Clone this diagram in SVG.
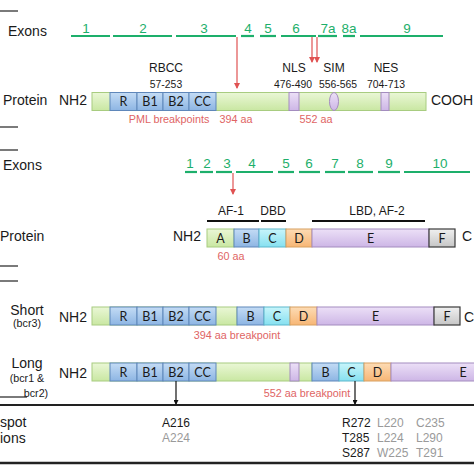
<svg xmlns="http://www.w3.org/2000/svg" width="474" height="474" viewBox="0 0 474 474">
<defs>
<linearGradient id="gGreen" x1="0" y1="0" x2="0" y2="1"><stop offset="0" stop-color="#eaf7d6"/><stop offset="1" stop-color="#c9e7a2"/></linearGradient>
<linearGradient id="gBlue" x1="0" y1="0" x2="0" y2="1"><stop offset="0" stop-color="#c4dcf5"/><stop offset="1" stop-color="#8db5e3"/></linearGradient>
<linearGradient id="gPurple" x1="0" y1="0" x2="0" y2="1"><stop offset="0" stop-color="#ece0f7"/><stop offset="1" stop-color="#cdb6e6"/></linearGradient>
<linearGradient id="gCyan" x1="0" y1="0" x2="0" y2="1"><stop offset="0" stop-color="#c8f5fb"/><stop offset="1" stop-color="#86e0f0"/></linearGradient>
<linearGradient id="gOrange" x1="0" y1="0" x2="0" y2="1"><stop offset="0" stop-color="#fddcb5"/><stop offset="1" stop-color="#f7b675"/></linearGradient>
<linearGradient id="gGray" x1="0" y1="0" x2="0" y2="1"><stop offset="0" stop-color="#f0f0f0"/><stop offset="1" stop-color="#c6c6c6"/></linearGradient>
<marker id="arrRed" markerWidth="6" markerHeight="6" refX="5" refY="3" orient="auto" markerUnits="userSpaceOnUse"><path d="M0,0 L6,3 L0,6 z" fill="#e05252"/></marker>
<marker id="arrBlk" markerWidth="5" markerHeight="5" refX="4" refY="2.5" orient="auto" markerUnits="userSpaceOnUse"><path d="M0,0 L5,2.5 L0,5 z" fill="#111"/></marker>
</defs>
<style>
text{font-family:"Liberation Sans",Arial,sans-serif;fill:#1a1a1a}
.lbl{font-size:14px}
.ex{font-size:13.5px;fill:#1daf6b;text-anchor:middle}
.exl{stroke:#1daf6b;stroke-width:2.2}
.dom{font-size:12px;text-anchor:middle}
.rng{font-size:10.4px;text-anchor:middle}
.red{font-size:10.8px;fill:#e06464;text-anchor:middle}
.box{font-family:Lato,"Open Sans",sans-serif;font-size:12.5px;text-anchor:middle;fill:#1a1a1a}
.small{font-size:10.7px;text-anchor:middle}
.mut{font-size:12px}
.gry{fill:#9a9a9a}
.grn{fill:url(#gGreen);stroke:#a8cc80;stroke-width:1}
.blu{fill:url(#gBlue);stroke:#5f87ba;stroke-width:1}
.pur{fill:url(#gPurple);stroke:#a48cbf;stroke-width:1}
.cya{fill:url(#gCyan);stroke:#5db7cc;stroke-width:1}
.ora{fill:url(#gOrange);stroke:#d8a060;stroke-width:1}
.gra{fill:url(#gGray);stroke:#3a3a3a;stroke-width:1.2}
.rule{stroke:#222;stroke-width:1.2}
.bar{stroke:#111;stroke-width:2}
.rarr{stroke:#e05252;stroke-width:1.2;marker-end:url(#arrRed)}
.barr{stroke:#111;stroke-width:1.2;marker-end:url(#arrBlk)}
</style>

<g id="frame">
<line class="rule" x1="0" y1="11" x2="18" y2="11"/>
<line class="rule" x1="0" y1="127" x2="18" y2="127"/>
<line class="rule" x1="0" y1="150" x2="18" y2="150"/>
<line class="rule" x1="0" y1="266" x2="18" y2="266"/>
<line class="rule" x1="0" y1="281" x2="18" y2="281"/>
<line class="rule" x1="0" y1="397" x2="27" y2="397"/>
<line x1="0" y1="405" x2="474" y2="405" stroke="#222" stroke-width="1.8"/>
<line x1="0" y1="463" x2="474" y2="463" stroke="#222" stroke-width="2.5"/>
</g>

<g id="exons1">
<text class="lbl" x="8" y="36">Exons</text>
<line class="exl" x1="71" y1="36" x2="110" y2="36"/>
<line class="exl" x1="113" y1="36" x2="172" y2="36"/>
<line class="exl" x1="176" y1="36" x2="236" y2="36"/>
<line class="exl" x1="241" y1="36" x2="254" y2="36"/>
<line class="exl" x1="260" y1="36" x2="276" y2="36"/>
<line class="exl" x1="281" y1="36" x2="316" y2="36"/>
<line class="exl" x1="318" y1="36" x2="337" y2="36"/>
<line class="exl" x1="343" y1="36" x2="355" y2="36"/>
<line class="exl" x1="360" y1="36" x2="443" y2="36"/>
<text class="ex" x="86" y="33">1</text>
<text class="ex" x="143" y="33">2</text>
<text class="ex" x="204" y="33">3</text>
<text class="ex" x="248" y="33">4</text>
<text class="ex" x="268" y="33">5</text>
<text class="ex" x="296" y="33">6</text>
<text class="ex" x="328" y="33">7a</text>
<text class="ex" x="349" y="33">8a</text>
<text class="ex" x="407" y="33">9</text>
</g>

<g id="pml-protein">
<text class="lbl" x="3" y="105">Protein</text>
<text class="lbl" x="59" y="105">NH2</text>
<rect class="grn" x="92" y="92.5" width="334" height="18"/>
<rect class="blu" x="110" y="92.5" width="27" height="18"/>
<rect class="blu" x="137" y="92.5" width="26" height="18"/>
<rect class="blu" x="163" y="92.5" width="26" height="18"/>
<rect class="blu" x="189" y="92.5" width="27" height="18"/>
<text class="box" x="123.5" y="106">R</text>
<text class="box" x="150" y="106">B1</text>
<text class="box" x="176" y="106">B2</text>
<text class="box" x="202.5" y="106">CC</text>
<rect class="pur" x="289" y="92.5" width="10" height="18"/>
<ellipse class="pur" cx="334" cy="101.5" rx="4.5" ry="9"/>
<rect class="pur" x="381" y="92.5" width="8" height="18"/>
<text class="lbl" x="431" y="105">COOH</text>
<text class="dom" x="166" y="72">RBCC</text>
<text class="rng" x="166" y="88">57-253</text>
<text class="dom" x="294" y="72">NLS</text>
<text class="rng" x="293" y="88">476-490</text>
<text class="dom" x="334" y="72">SIM</text>
<text class="rng" x="338" y="88">556-565</text>
<text class="dom" x="386" y="72">NES</text>
<text class="rng" x="386" y="88">704-713</text>
<text class="red" x="169" y="123">PML breakpoints</text>
<text class="red" x="236" y="123">394 aa</text>
<text class="red" x="316" y="123">552 aa</text>
</g>

<g id="exons2">
<text class="lbl" x="3" y="170">Exons</text>
<line class="exl" x1="185" y1="172" x2="197" y2="172"/>
<line class="exl" x1="200" y1="172" x2="213" y2="172"/>
<line class="exl" x1="216" y1="172" x2="232" y2="172"/>
<line class="exl" x1="236" y1="172" x2="273" y2="172"/>
<line class="exl" x1="278" y1="172" x2="294" y2="172"/>
<line class="exl" x1="299" y1="172" x2="320" y2="172"/>
<line class="exl" x1="325" y1="172" x2="345" y2="172"/>
<line class="exl" x1="348" y1="172" x2="373" y2="172"/>
<line class="exl" x1="378" y1="172" x2="400" y2="172"/>
<line class="exl" x1="404" y1="172" x2="470" y2="172"/>
<text class="ex" x="190" y="168">1</text>
<text class="ex" x="207" y="168">2</text>
<text class="ex" x="227" y="168">3</text>
<text class="ex" x="252" y="168">4</text>
<text class="ex" x="286" y="168">5</text>
<text class="ex" x="309" y="168">6</text>
<text class="ex" x="335" y="168">7</text>
<text class="ex" x="360" y="168">8</text>
<text class="ex" x="389" y="168">9</text>
<text class="ex" x="440" y="168">10</text>
</g>

<g id="rar-protein">
<text class="lbl" x="0" y="241">Protein</text>
<text class="dom" x="231" y="215">AF-1</text>
<text class="dom" x="273" y="215">DBD</text>
<text class="dom" x="377" y="215">LBD, AF-2</text>
<line class="bar" x1="207" y1="221" x2="259" y2="221"/>
<line class="bar" x1="261" y1="221" x2="286" y2="221"/>
<line class="bar" x1="312" y1="221" x2="425" y2="221"/>
<text class="lbl" x="173" y="241">NH2</text>
<rect class="grn" x="207" y="229" width="27" height="18"/>
<rect class="blu" x="234" y="229" width="25" height="18"/>
<rect class="cya" x="259" y="229" width="27" height="18"/>
<rect class="ora" x="286" y="229" width="26" height="18"/>
<rect class="pur" x="312" y="229" width="117" height="18"/>
<rect class="gra" x="429" y="229" width="26" height="18"/>
<text class="box" x="220.5" y="242.5">A</text>
<text class="box" x="246.5" y="242.5">B</text>
<text class="box" x="272.5" y="242.5">C</text>
<text class="box" x="299" y="242.5">D</text>
<text class="box" x="370.5" y="242.5">E</text>
<text class="box" x="442" y="242.5">F</text>
<text class="lbl" x="462" y="241">C</text>
<text class="red" x="231" y="260">60 aa</text>
</g>

<g id="short-isoform">
<text class="lbl" x="27" y="315" text-anchor="middle">Short</text>
<text class="small" x="27" y="327">(bcr3)</text>
<text class="lbl" x="59" y="322">NH2</text>
<rect class="grn" x="92" y="307" width="145" height="18"/>
<rect class="blu" x="110" y="307" width="27" height="18"/>
<rect class="blu" x="137" y="307" width="26" height="18"/>
<rect class="blu" x="163" y="307" width="26" height="18"/>
<rect class="blu" x="189" y="307" width="27" height="18"/>
<rect class="blu" x="237" y="307" width="27" height="18"/>
<rect class="cya" x="264" y="307" width="26" height="18"/>
<rect class="ora" x="290" y="307" width="27" height="18"/>
<rect class="pur" x="317" y="307" width="117" height="18"/>
<rect class="gra" x="434" y="307" width="26" height="18"/>
<text class="box" x="123.5" y="320.5">R</text>
<text class="box" x="150" y="320.5">B1</text>
<text class="box" x="176" y="320.5">B2</text>
<text class="box" x="202.5" y="320.5">CC</text>
<text class="box" x="250.5" y="320.5">B</text>
<text class="box" x="277" y="320.5">C</text>
<text class="box" x="303.5" y="320.5">D</text>
<text class="box" x="375.5" y="320.5">E</text>
<text class="box" x="447" y="320.5">F</text>
<text class="lbl" x="464" y="322">C</text>
<text class="red" x="237" y="339">394 aa breakpoint</text>
</g>

<g id="long-isoform">
<text class="lbl" x="27" y="368" text-anchor="middle">Long</text>
<text class="small" x="27" y="382">(bcr1 &amp;</text>
<text class="small" x="36" y="397">bcr2)</text>
<text class="lbl" x="59" y="378">NH2</text>
<rect class="grn" x="92" y="363" width="220" height="18"/>
<rect class="blu" x="110" y="363" width="27" height="18"/>
<rect class="blu" x="137" y="363" width="26" height="18"/>
<rect class="blu" x="163" y="363" width="26" height="18"/>
<rect class="blu" x="189" y="363" width="27" height="18"/>
<rect class="pur" x="290" y="363" width="9" height="18"/>
<rect class="blu" x="312" y="363" width="27" height="18"/>
<rect class="cya" x="339" y="363" width="25" height="18"/>
<rect class="ora" x="364" y="363" width="27" height="18"/>
<rect class="pur" x="391" y="363" width="90" height="18"/>
<text class="box" x="123.5" y="376.5">R</text>
<text class="box" x="150" y="376.5">B1</text>
<text class="box" x="176" y="376.5">B2</text>
<text class="box" x="202.5" y="376.5">CC</text>
<text class="box" x="325.5" y="376.5">B</text>
<text class="box" x="351.5" y="376.5">C</text>
<text class="box" x="377.5" y="376.5">D</text>
<text class="box" x="463" y="376.5">E</text>
<text class="red" x="307" y="397">552 aa breakpoint</text>
</g>

<g id="hotspots">
<text class="lbl" x="0" y="427">spot</text>
<text class="lbl" x="0" y="443">ions</text>
<text class="mut" x="162" y="427">A216</text>
<text class="mut gry" x="162" y="442">A224</text>
<text class="mut" x="342" y="427">R272</text>
<text class="mut" x="342" y="442">T285</text>
<text class="mut" x="342" y="457">S287</text>
<text class="mut gry" x="377" y="427">L220</text>
<text class="mut gry" x="377" y="442">L224</text>
<text class="mut gry" x="377" y="457">W225</text>
<text class="mut gry" x="416" y="427">C235</text>
<text class="mut gry" x="416" y="442">L290</text>
<text class="mut gry" x="416" y="457">T291</text>
</g>

<g id="connectors">
<line class="rarr" x1="237" y1="37" x2="237" y2="88"/>
<line class="rarr" x1="312" y1="37" x2="312" y2="62"/>
<line class="rarr" x1="317" y1="37" x2="317" y2="62"/>
<line class="rarr" x1="233" y1="173" x2="233" y2="194"/>
<line class="barr" x1="176" y1="381" x2="176" y2="404"/>
<line class="barr" x1="355" y1="381" x2="355" y2="404"/>
</g>
</svg>
